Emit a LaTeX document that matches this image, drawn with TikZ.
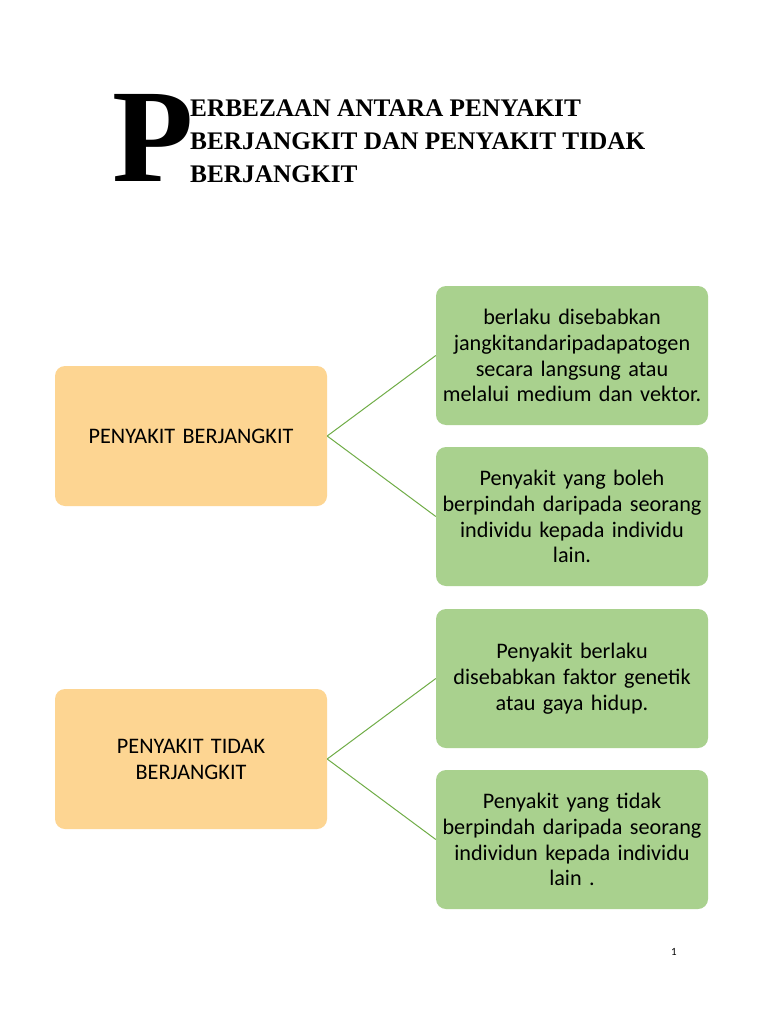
\documentclass[tikz,border=0pt]{standalone}
\usepackage{fontspec}
\setmainfont{Carlito}
\newfontfamily\titlefont{Liberation Serif}
\definecolor{boxorange}{HTML}{FDD592}
\definecolor{boxgreen}{HTML}{A9D18E}
\definecolor{linegreen}{HTML}{70AD47}
\begin{document}
\begin{tikzpicture}[x=1pt,y=-1pt,
  orangebox/.style={fill=boxorange,draw=none,rounded corners=10pt,minimum width=272pt,minimum height=140pt,align=center,text width=262pt,font=\fontsize{22.2}{26}\selectfont},
  greenbox/.style={fill=boxgreen,draw=none,rounded corners=10pt,minimum width=272pt,minimum height=139pt,align=center,text width=268pt,inner xsep=2pt,font=\fontsize{22.2}{25.8}\selectfont},
  link/.style={draw=linegreen,line width=1pt}]
\useasboundingbox (0,0) rectangle (768,1024);
\fill[white] (0,0) rectangle (768,1024);
% title
\node[anchor=base west,inner sep=0pt,font=\titlefont\bfseries\fontsize{133}{133}\selectfont] (bigP) at (112,182) {P};
\node[anchor=base west,inner sep=0pt,font=\titlefont\bfseries\fontsize{25.3}{25.3}\selectfont] (t1) at (190,117) {ERBEZAAN ANTARA PENYAKIT};
\node[anchor=base west,inner sep=0pt,font=\titlefont\bfseries\fontsize{25.3}{25.3}\selectfont] (t2) at (190,150) {BERJANGKIT DAN PENYAKIT TIDAK};
\node[anchor=base west,inner sep=0pt,font=\titlefont\bfseries\fontsize{25.3}{25.3}\selectfont] (t3) at (190,183) {BERJANGKIT};
% boxes
\node[orangebox] (o1) at (191,436) {PENYAKIT BERJANGKIT};
\node[orangebox] (o2) at (191,759) {PENYAKIT TIDAK\\BERJANGKIT};
\node[greenbox] (g1) at (572,355.5) {berlaku disebabkan\\jangkitandaripadapatogen\\secara langsung atau\\melalui medium dan vektor.};
\node[greenbox] (g2) at (572,516.5) {Penyakit yang boleh\\berpindah daripada seorang\\individu kepada individu\\lain.};
\node[greenbox] (g3) at (572,678.5) {Penyakit berlaku\\disebabkan faktor genetik\\atau gaya hidup.};
\node[greenbox] (g4) at (572,839.5) {Penyakit yang tidak\\berpindah daripada seorang\\individun kepada individu\\lain .};
\draw[link] (o1.east) -- (g1.west);
\draw[link] (o1.east) -- (g2.west);
\draw[link] (o2.east) -- (g3.west);
\draw[link] (o2.east) -- (g4.west);
\node[font=\fontsize{11}{11}\selectfont,inner sep=0pt] (pg) at (674,952) {1};
\end{tikzpicture}
\end{document}
